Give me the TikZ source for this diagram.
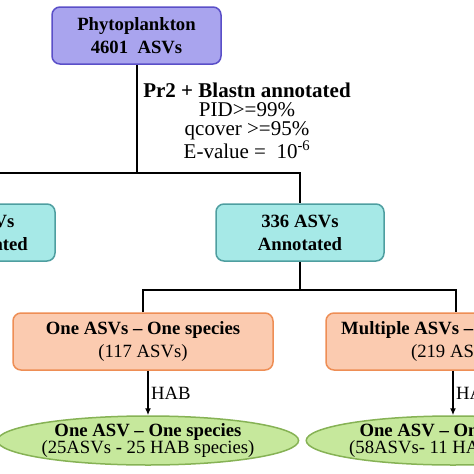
\documentclass[tikz,border=0pt]{standalone}
\usepackage{fontspec}
\setmainfont{Liberation Serif}
\usepackage{tikz}
\usetikzlibrary{positioning, arrows.meta, shapes.geometric}
\definecolor{Phyto}{HTML}{A9A4EE}
\definecolor{PhytoDark}{HTML}{5A4FC8}
\definecolor{Annot}{HTML}{A6E9E7}
\definecolor{AnnotDark}{HTML}{4E9EA0}
\definecolor{Species}{HTML}{FBCBB0}
\definecolor{SpeciesDark}{HTML}{EE8E55}
\definecolor{Hab}{HTML}{C6E89C}
\definecolor{HabDark}{HTML}{86B255}

\tikzset{
  basebox/.style={line width=1.5pt, rounded corners=8pt, minimum height=57pt,
                  inner sep=0pt, align=center, font=\fontsize{18.7}{23}\selectfont},
  phytobox/.style={basebox, draw=PhytoDark, fill=Phyto, minimum width=169pt, font=\fontsize{18.7}{23}\selectfont\bfseries},
  annotbox/.style={basebox, draw=AnnotDark, fill=Annot, minimum width=168pt, font=\fontsize{18.7}{23}\selectfont\bfseries},
  speciesbox/.style={basebox, draw=SpeciesDark, fill=Species, minimum width=260pt},
  habbox/.style={ellipse, draw=HabDark, fill=Hab, line width=1.5pt, inner sep=0pt,
                 minimum width=270pt, minimum height=49pt, align=center,
                 font=\fontsize{18.7}{17}\selectfont},
  link/.style={line width=2pt, draw=black},
}

\begin{document}
\begin{tikzpicture}[x=1pt, y=-1pt]
  \path[use as bounding box, clip] (0,0) rectangle (474,474);

  % boxes
  \node[phytobox] (phyto) at (136.5,35.5) {Phytoplankton\\4601 \ ASVs};
  \node[annotbox] (notannot) at (-29,232.5) {4265 ASVs\\Not annotated};
  \node[annotbox] (annot) at (300,232.5) {336 ASVs\\Annotated};
  \node[speciesbox] (oneone) at (143,341.5) {\textbf{One ASVs – One species}\\(117 ASVs)};
  \node[speciesbox] (multi) at (456,341.5) {\textbf{Multiple ASVs – One species}\\(219 ASVs)};
  \node[habbox] (habone) at (148,440.5) {\textbf{One ASV – One species}\\(25ASVs - 25 HAB species)};
  \node[habbox] (habmulti) at (453,440.5) {\textbf{One ASV – One species}\\(58ASVs- 11 HAB species)};

  % annotation criteria
  \node[anchor=north, inner sep=0pt, align=center, font=\fontsize{21}{19}\selectfont] (criteria) at (247,83)
    {\textbf{Pr2 + Blastn annotated}\\PID>=99\%\\qcover >=95\%\\E-value = \ 10\textsuperscript{-6}};

  % connectors
  \coordinate (topsplit) at (phyto.south |- 0,173);
  \coordinate (midsplit) at (annot.south |- 0,290);
  \draw[link] (phyto.south) -- (topsplit);
  \draw[link] (notannot.north) |- (topsplit) -| (annot.north);
  \draw[link] (annot.south) -- (midsplit);
  \draw[link] (oneone.north) |- (midsplit) -| (multi.north);
  \draw[link, -{Latex[length=7pt, width=6pt]}] (oneone.south -| habone.north) -- (habone.north)
    node[midway, right, inner sep=2pt, font=\fontsize{18.7}{22}\selectfont] (habone-lbl) {HAB};
  \draw[link, -{Latex[length=7pt, width=6pt]}] (multi.south -| habmulti.north) -- (habmulti.north)
    node[midway, right, inner sep=2pt, font=\fontsize{18.7}{22}\selectfont] (habmulti-lbl) {HAB};
\end{tikzpicture}
\end{document}
